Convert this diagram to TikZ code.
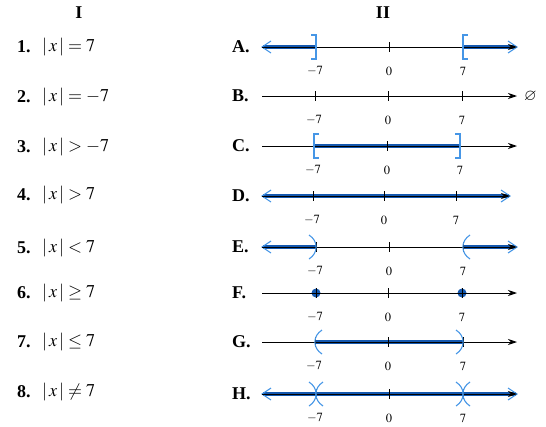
\documentclass[tikz,border=0pt]{standalone}
\usepackage{mathptmx}
\usepackage{amssymb}
\usepackage{fontspec}
\setmainfont{Liberation Serif}
\usetikzlibrary{arrows.meta}

\definecolor{BandBlue}{RGB}{20,88,175}
\definecolor{MarkBlue}{RGB}{70,150,230}

\begin{document}
\begin{tikzpicture}
[
x=1pt, y=-1pt,
Axis/.style={draw=black, line width=0.9pt, -{Stealth[length=9pt,width=6pt]}},
Tick/.style={draw=black, line width=0.9pt},
Band/.style={draw=BandBlue, line width=4.5pt},
Mark/.style={draw=MarkBlue, line width=1.1pt},
Dot/.style={circle, fill=BandBlue, inner sep=0pt, minimum size=9pt},
Head/.style={font=\fontsize{18}{21}\selectfont\bfseries},
Item/.style={font=\fontsize{18}{21}\selectfont, anchor=west, inner sep=0pt},
Num/.style={font=\fontsize{12.5}{15}\selectfont, inner sep=0pt},
Chev/.pic={\draw[Mark] (9,-6) -- (0,0) -- (9,6);},
LBrack/.pic={\draw[Mark] (5,-12) -- (0,-12) -- (0,12) -- (5,12);},
RBrack/.pic={\draw[Mark] (-5,-12) -- (0,-12) -- (0,12) -- (-5,12);},
LParen/.pic={\draw[Mark] (7,-12) .. controls (-2.5,-6) and (-2.5,6) .. (7,12);},
RParen/.pic={\draw[Mark] (-7,-12) .. controls (2.5,-6) and (2.5,6) .. (-7,12);},
]

\useasboundingbox (0,0) rectangle (546,426);

% column heads
\node[Head] (headI)  at (79,13)  {I};
\node[Head] (headII) at (383,13) {II};

% column I
\foreach \k/\rel/\y in {1/{|\,x\,|=7}/47, 2/{|\,x\,|=-7}/97, 3/{|\,x\,|>-7}/147,
                        4/{|\,x\,|>7}/195, 5/{|\,x\,|<7}/248, 6/{|\,x\,|\geq7}/293,
                        7/{|\,x\,|\leq7}/342, 8/{|\,x\,|\neq7}/392}
{
  \node[Item, font=\fontsize{18}{21}\selectfont\bfseries] (num\k) at (17,\y) {\k.};
  \node[Item] (rel\k) at (42,\y) {$\rel$};
}

% column II: row name / y / -7 / 0 / 7 / right end
\foreach \L/\y/\m/\z/\p/\e in {A/47/316/389/463/517, B/96/315/388/462/517,
                               C/146/314/387/460/517, D/196/313/384/456/510,
                               E/247/316/389/463/517, F/293/316/388/462/517,
                               G/342/315/388/463/517, H/394/316/389/463/517}
{
  \coordinate (s\L) at (262,\y);
  \coordinate (m\L) at (\m,\y);
  \coordinate (z\L) at (\z,\y);
  \coordinate (p\L) at (\p,\y);
  \coordinate (e\L) at (\e,\y);
  \node[Item, font=\fontsize{18}{21}\selectfont\bfseries] (let\L) at (232,\y) {\L.};
  \path (m\L) ++(-1,24) node[Num] (lm\L) {$-7$};
  \path (z\L) ++(0,24) node[Num] (lz\L) {$0$};
  \path (p\L) ++(0,24) node[Num] (lp\L) {$7$};
}

% shading under the axes
\draw[Band] (sA) ++(1,0) -- (mA);
\draw[Band] (pA) -- ++(52,0);
\draw[Band] (mC) -- (pC);
\draw[Band] (sD) ++(1,0) -- ++(246,0);
\draw[Band] (sE) ++(1,0) -- (mE);
\draw[Band] (pE) -- ++(52,0);
\node[Dot] (dotm) at (mF) {};
\node[Dot] (dotp) at (pF) {};
\draw[Band] (mG) -- (pG);
\draw[Band] (sH) ++(1,0) -- ++(253,0);

% open arrow ends
\foreach \L in {A,D,E,H}
{
  \pic at (s\L) {Chev};
  \pic[rotate=180] at (e\L) {Chev};
}

% axes and ticks
\foreach \L in {A,B,C,D,E,F,G,H}
{
  \draw[Axis] (s\L) -- (e\L);
  \foreach \t in {m,z,p}
    \draw[Tick] (\t\L) ++(0,-5) -- ++(0,10);
}

% end points
\pic at (mA) {RBrack};  \pic at (pA) {LBrack};
\pic at (mC) {LBrack};  \pic at (pC) {RBrack};
\pic at (mE) {RParen};  \pic at (pE) {LParen};
\pic at (mG) {LParen};  \pic at (pG) {RParen};
\pic at (mH) {RParen};  \pic at (mH) {LParen};
\pic at (pH) {RParen};  \pic at (pH) {LParen};

\node[font=\fontsize{16}{19}\selectfont, anchor=west, inner sep=0pt] (empty) at (524,96) {$\varnothing$};

\end{tikzpicture}
\end{document}
